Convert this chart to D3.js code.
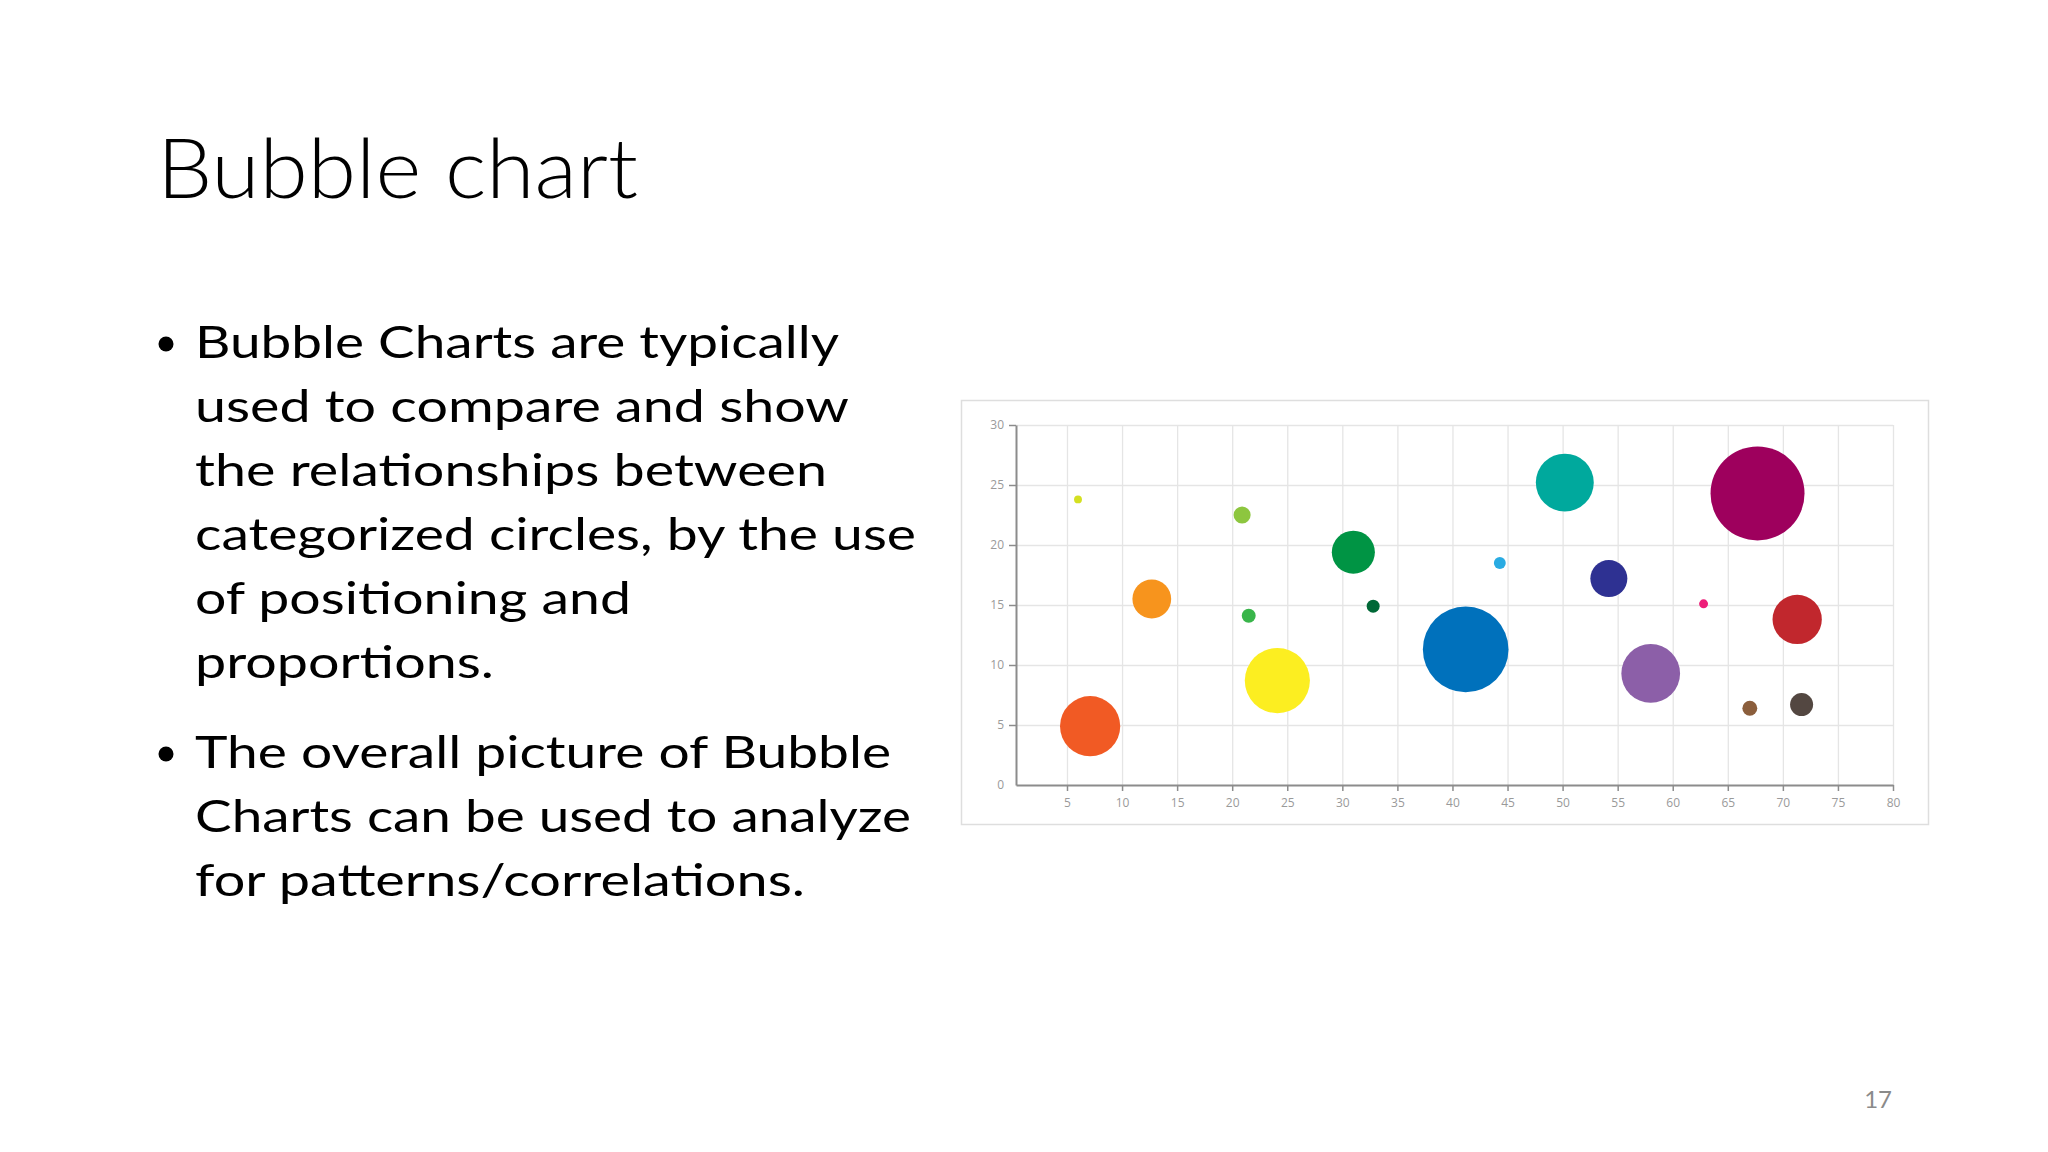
<!DOCTYPE html>
<html>
<head>
<meta charset="utf-8">
<script src="https://cdn.jsdelivr.net/npm/d3@7"></script>
<style>
  html, body { margin: 0; padding: 0; background: #fff; }
  svg { display: block; }
</style>
</head>
<body>
<div id="slide"></div>
<script>
// bubble data
const bubbleX = [6.0, 20.9, 12.7, 21.5, 7.1, 24.1, 31.0, 32.8, 41.2, 44.3, 50.2, 54.2, 58.0, 62.8, 67.7, 71.3, 67.0, 71.7];
const bubbleY = [23.8, 22.5, 15.5, 14.1, 4.9, 8.7, 19.4, 14.9, 11.3, 18.5, 25.2, 17.2, 9.3, 15.1, 24.3, 13.8, 6.4, 6.7];
const bubbleSize = [0.7, 3.3, 17, 2.2, 41, 48, 21, 1.9, 83, 1.6, 38, 15.5, 39, 0.9, 100, 27.5, 2.5, 6];
const bubbleColors = ["#d4e021", "#8dc63f", "#f7941d", "#39b54a", "#f15a24", "#fcee21", "#009444", "#006837", "#0071bc",
  "#29abe2", "#00a99d", "#2e3192", "#8c5fa8", "#ed1e79", "#9e005d", "#c1272d", "#8b5e3c", "#534741"];

const xTicks = [5, 10, 15, 20, 25, 30, 35, 40, 45, 50, 55, 60, 65, 70, 75, 80];
const yTicks = [0, 5, 10, 15, 20, 25, 30];

const title = "Bubble chart";
const bullets = [
  ["Bubble Charts are typically", "used to compare and show", "the relationships between",
   "categorized circles, by the use", "of positioning and", "proportions."],
  ["The overall picture of Bubble", "Charts can be used to analyze", "for patterns/correlations."]
];
const pageNumber = "17";

const W = 2048, H = 1152;
const svg = d3.select("#slide").append("svg")
  .attr("width", W).attr("height", H);

svg.append("rect").attr("width", W).attr("height", H).attr("fill", "#fff");

// title
svg.append("text")
  .attr("x", 157).attr("y", 198)
  .attr("font-family", "Lato, 'Open Sans', sans-serif")
  .attr("font-weight", 300)
  .attr("font-size", 82)
  .attr("fill", "#000")
  .attr("textLength", 481)
  .attr("lengthAdjust", "spacingAndGlyphs")
  .text(title);

// bullet text
const lineWidths = [[644, 654, 632, 721, 436, 299], [696, 716, 610]];
const paraTop = [358, 768];
const lineStep = 64;

bullets.forEach((lines, p) => {
  svg.append("circle")
    .attr("cx", 166).attr("cy", paraTop[p] - 14).attr("r", 7.5)
    .attr("fill", "#000");
  lines.forEach((t, i) => {
    svg.append("text")
      .attr("x", 195).attr("y", paraTop[p] + i * lineStep)
      .attr("font-family", "Lato, 'Open Sans', sans-serif")
      .attr("font-size", 45)
      .attr("fill", "#000")
      .attr("textLength", lineWidths[p][i])
      .attr("lengthAdjust", "spacingAndGlyphs")
      .text(t);
  });
});

// page number
svg.append("text")
  .attr("x", 1892).attr("y", 1108)
  .attr("text-anchor", "end")
  .attr("font-family", "Lato, 'Open Sans', sans-serif")
  .attr("font-size", 24)
  .attr("fill", "#8a8a8a")
  .text(pageNumber);

// chart image frame
svg.append("rect")
  .attr("x", 961.5).attr("y", 400.5)
  .attr("width", 967).attr("height", 424)
  .attr("fill", "#fff")
  .attr("stroke", "#dedede")
  .attr("stroke-width", 1.5);

const x = d3.scaleLinear().domain([0.37, 80]).range([1016, 1893]);
const y = d3.scaleLinear().domain([0, 30]).range([785, 425]);
const r = d3.scaleSqrt().domain([0, 100]).range([0, 47]);

const chart = svg.append("g");

// grid
chart.append("g")
  .attr("transform", `translate(0,${y(0)})`)
  .call(d3.axisBottom(x).tickValues(xTicks).tickSize(-(y(0) - y(30))).tickFormat(""))
  .call(g => g.select(".domain").remove())
  .call(g => g.selectAll("line").attr("stroke", "#e5e5e5").attr("stroke-width", 1.3));

chart.append("g")
  .attr("transform", `translate(${x.range()[0]},0)`)
  .call(d3.axisLeft(y).tickValues(yTicks.filter(d => d > 0)).tickSize(-(x.range()[1] - x.range()[0])).tickFormat(""))
  .call(g => g.select(".domain").remove())
  .call(g => g.selectAll("line").attr("stroke", "#e5e5e5").attr("stroke-width", 1.3));

// axes
const xAxis = chart.append("g")
  .attr("transform", `translate(0,${y(0)})`)
  .call(d3.axisBottom(x).tickValues(xTicks).tickSize(6).tickSizeOuter(0).tickPadding(7));

const yAxis = chart.append("g")
  .attr("transform", `translate(${x.range()[0]},0)`)
  .call(d3.axisLeft(y).tickValues(yTicks).tickSize(7).tickSizeOuter(0).tickPadding(5));

[xAxis, yAxis].forEach(g => {
  g.select(".domain").attr("stroke", "#8c8c8c").attr("stroke-width", 2);
  g.selectAll(".tick line").attr("stroke", "#8c8c8c").attr("stroke-width", 1.5);
  g.selectAll(".tick text")
    .attr("fill", "#9a9a9a")
    .attr("font-family", "'Open Sans', sans-serif")
    .attr("font-size", 12);
});
yAxis.selectAll(".tick").filter(d => d === 0).select("line").remove();

// bubbles
const data = bubbleX.map((d, i) => ({ x: d, y: bubbleY[i], z: bubbleSize[i], c: bubbleColors[i] }));

chart.append("g")
  .selectAll("circle")
  .data(data)
  .join("circle")
  .attr("cx", d => x(d.x))
  .attr("cy", d => y(d.y))
  .attr("r", d => r(d.z))
  .attr("fill", d => d.c);
</script>
</body>
</html>
